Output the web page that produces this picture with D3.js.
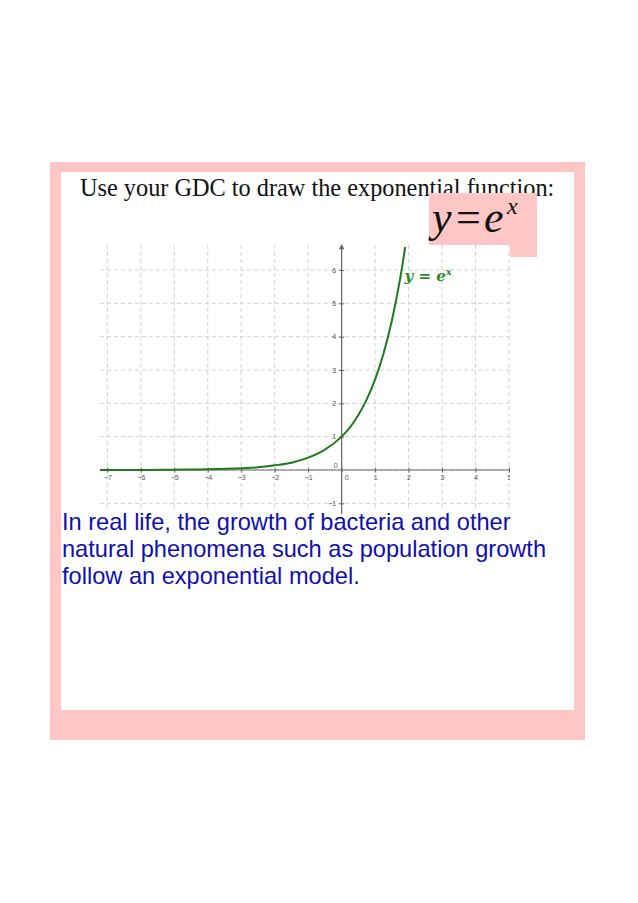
<!DOCTYPE html>
<html>
<head>
<meta charset="utf-8">
<script src="https://cdn.jsdelivr.net/npm/d3@7"></script>
<style>
  html, body { margin: 0; padding: 0; background: #fff; }
  svg { display: block; }
</style>
</head>
<body>
<svg id="page" width="638" height="903"></svg>
<script>
// tick values of the GDC window
const xTicks = [-7, -6, -5, -4, -3, -2, -1, 0, 1, 2, 3, 4, 5];
const yTicks = [-1, 0, 1, 2, 3, 4, 5, 6];

const curveX = [-7.25, -6, -5, -4, -3, -2.5, -2, -1.5, -1, -0.5, 0, 0.25, 0.5, 0.75, 1, 1.25, 1.5, 1.75, 1.9];
const curveY = [0.0, 0.0, 0.01, 0.02, 0.05, 0.08, 0.14, 0.22, 0.37, 0.61, 1.0, 1.28, 1.65, 2.12, 2.72, 3.49, 4.48, 5.75, 6.69];

// texts
const titleText = "Use your GDC to draw the exponential function:";
const bodyLines = [
    "In real life, the growth of bacteria and other",
    "natural phenomena such as population growth",
    "follow an exponential model."
];

const colors = {
    pink: "#ffc6c6",
    grid: "#d2d2d2",
    axis: "#666",
    tickText: "#555",
    curve: "#1f7a1f",
    label: "#2f8a2f",
    body: "#1010b0"
};

const svg = d3.select("#page");

// slide frame
svg.append("rect")
    .attr("x", 50).attr("y", 162)
    .attr("width", 535).attr("height", 578)
    .attr("fill", colors.pink);
svg.append("rect")
    .attr("x", 61).attr("y", 172)
    .attr("width", 513).attr("height", 538)
    .attr("fill", "#fff");

// title
svg.append("text")
    .attr("x", 80).attr("y", 195.5)
    .attr("font-family", "'Liberation Serif', 'Times New Roman', serif")
    .attr("font-size", 24.3)
    .attr("fill", "#111")
    .text(titleText);

// chart
const xScale = d3.scaleLinear().domain([-7, 5]).range([107.3, 509]);
const yScale = d3.scaleLinear().domain([0, 6]).range([470, 270]);
const xMin = -7.22, xMax = 5.03, yMin = -1.2, yMax = 6.75;

svg.append("defs").append("clipPath")
    .attr("id", "plotClip")
    .append("rect")
    .attr("x", xScale(xMin)).attr("y", yScale(yMax) - 4)
    .attr("width", xScale(xMax) - xScale(xMin))
    .attr("height", yScale(yMin) - yScale(yMax) + 8);

const chart = svg.append("g").attr("clip-path", "url(#plotClip)");

// grid
chart.append("g")
    .selectAll("line")
    .data(xTicks)
    .join("line")
    .attr("x1", d => xScale(d)).attr("x2", d => xScale(d))
    .attr("y1", yScale(yMax)).attr("y2", yScale(yMin))
    .attr("stroke", colors.grid)
    .attr("stroke-dasharray", "4,3");

chart.append("g")
    .selectAll("line")
    .data(yTicks)
    .join("line")
    .attr("x1", xScale(xMin)).attr("x2", xScale(xMax))
    .attr("y1", d => yScale(d)).attr("y2", d => yScale(d))
    .attr("stroke", colors.grid)
    .attr("stroke-dasharray", "4,3");

// axes
const xAxis = chart.append("g")
    .attr("transform", `translate(0,${yScale(0)})`)
    .call(d3.axisBottom(xScale)
        .tickValues(xTicks)
        .tickSize(2.5)
        .tickPadding(3)
        .tickFormat(d => d === 0 ? "" : d3.format("")(d)));
xAxis.select(".domain").remove();
xAxis.selectAll(".tick line").attr("y1", -2.5).attr("stroke", colors.axis);
xAxis.selectAll(".tick text")
    .attr("font-family", "'Liberation Sans', Arial, sans-serif")
    .attr("font-size", 7)
    .attr("fill", colors.tickText);

const yAxis = chart.append("g")
    .attr("transform", `translate(${xScale(0)},0)`)
    .call(d3.axisLeft(yScale)
        .tickValues(yTicks.filter(d => d !== 0))
        .tickSize(2.5)
        .tickPadding(3)
        .tickFormat(d3.format("")));
yAxis.select(".domain").remove();
yAxis.selectAll(".tick line").attr("x1", 2.5).attr("stroke", colors.axis);
yAxis.selectAll(".tick text")
    .attr("font-family", "'Liberation Sans', Arial, sans-serif")
    .attr("font-size", 7)
    .attr("fill", colors.tickText);

// axis lines
chart.append("line")
    .attr("x1", xScale(xMin)).attr("x2", xScale(xMax))
    .attr("y1", yScale(0)).attr("y2", yScale(0))
    .attr("stroke", colors.axis).attr("stroke-width", 1.2);
chart.append("line")
    .attr("x1", xScale(0)).attr("x2", xScale(0))
    .attr("y1", yScale(yMin) + 4).attr("y2", yScale(yMax) + 2)
    .attr("stroke", colors.axis).attr("stroke-width", 1.2);
chart.append("path")
    .attr("d", d3.symbol().type(d3.symbolTriangle).size(14)())
    .attr("transform", `translate(${xScale(0)},${yScale(yMax) + 2.5})`)
    .attr("fill", colors.axis);

// origin labels
chart.append("text")
    .attr("x", xScale(0) + 3).attr("y", yScale(0) + 9.5)
    .attr("font-family", "'Liberation Sans', Arial, sans-serif")
    .attr("font-size", 7).attr("fill", colors.tickText)
    .text("0");
chart.append("text")
    .attr("x", xScale(0) - 4).attr("y", yScale(0) - 2)
    .attr("text-anchor", "end")
    .attr("font-family", "'Liberation Sans', Arial, sans-serif")
    .attr("font-size", 7).attr("fill", colors.tickText)
    .text("0");

// curve
const curvePoints = d3.zip(curveX, curveY);
chart.append("path")
    .datum(curvePoints)
    .attr("d", d3.line()
        .x(d => xScale(d[0]))
        .y(d => yScale(d[1]))
        .curve(d3.curveMonotoneX))
    .attr("fill", "none")
    .attr("stroke", colors.curve)
    .attr("stroke-width", 2);

// curve label
const curveLabel = svg.append("text")
    .attr("x", 404.5).attr("y", 281)
    .attr("font-family", "'DejaVu Serif', 'Liberation Serif', serif")
    .attr("font-size", 15)
    .attr("font-weight", "bold")
    .attr("font-style", "italic")
    .attr("fill", colors.label);
curveLabel.append("tspan").text("y = e");
curveLabel.append("tspan")
    .attr("dy", -6).attr("font-size", 10)
    .text("x");

// formula box
svg.append("path")
    .attr("d", "M429,193H537V257H510V245H429Z")
    .attr("fill", colors.pink);

const formula = svg.append("g")
    .attr("font-family", "'Liberation Serif', 'Times New Roman', serif")
    .attr("fill", "#111");
formula.append("text")
    .attr("x", 432).attr("y", 232)
    .attr("font-size", 44).attr("font-style", "italic")
    .text("y");
formula.append("text")
    .attr("x", 456).attr("y", 232)
    .attr("font-size", 44)
    .text("=");
formula.append("text")
    .attr("x", 484).attr("y", 232)
    .attr("font-size", 44).attr("font-style", "italic")
    .text("e");
formula.append("text")
    .attr("x", 507).attr("y", 214)
    .attr("font-size", 24).attr("font-style", "italic")
    .text("x");

// body text
svg.append("g")
    .selectAll("text")
    .data(bodyLines)
    .join("text")
    .attr("x", 62)
    .attr("y", (d, i) => 530 + i * 27)
    .attr("font-family", "'Liberation Sans', Arial, sans-serif")
    .attr("font-size", 23.6)
    .attr("fill", colors.body)
    .text(d => d);
</script>
</body>
</html>
